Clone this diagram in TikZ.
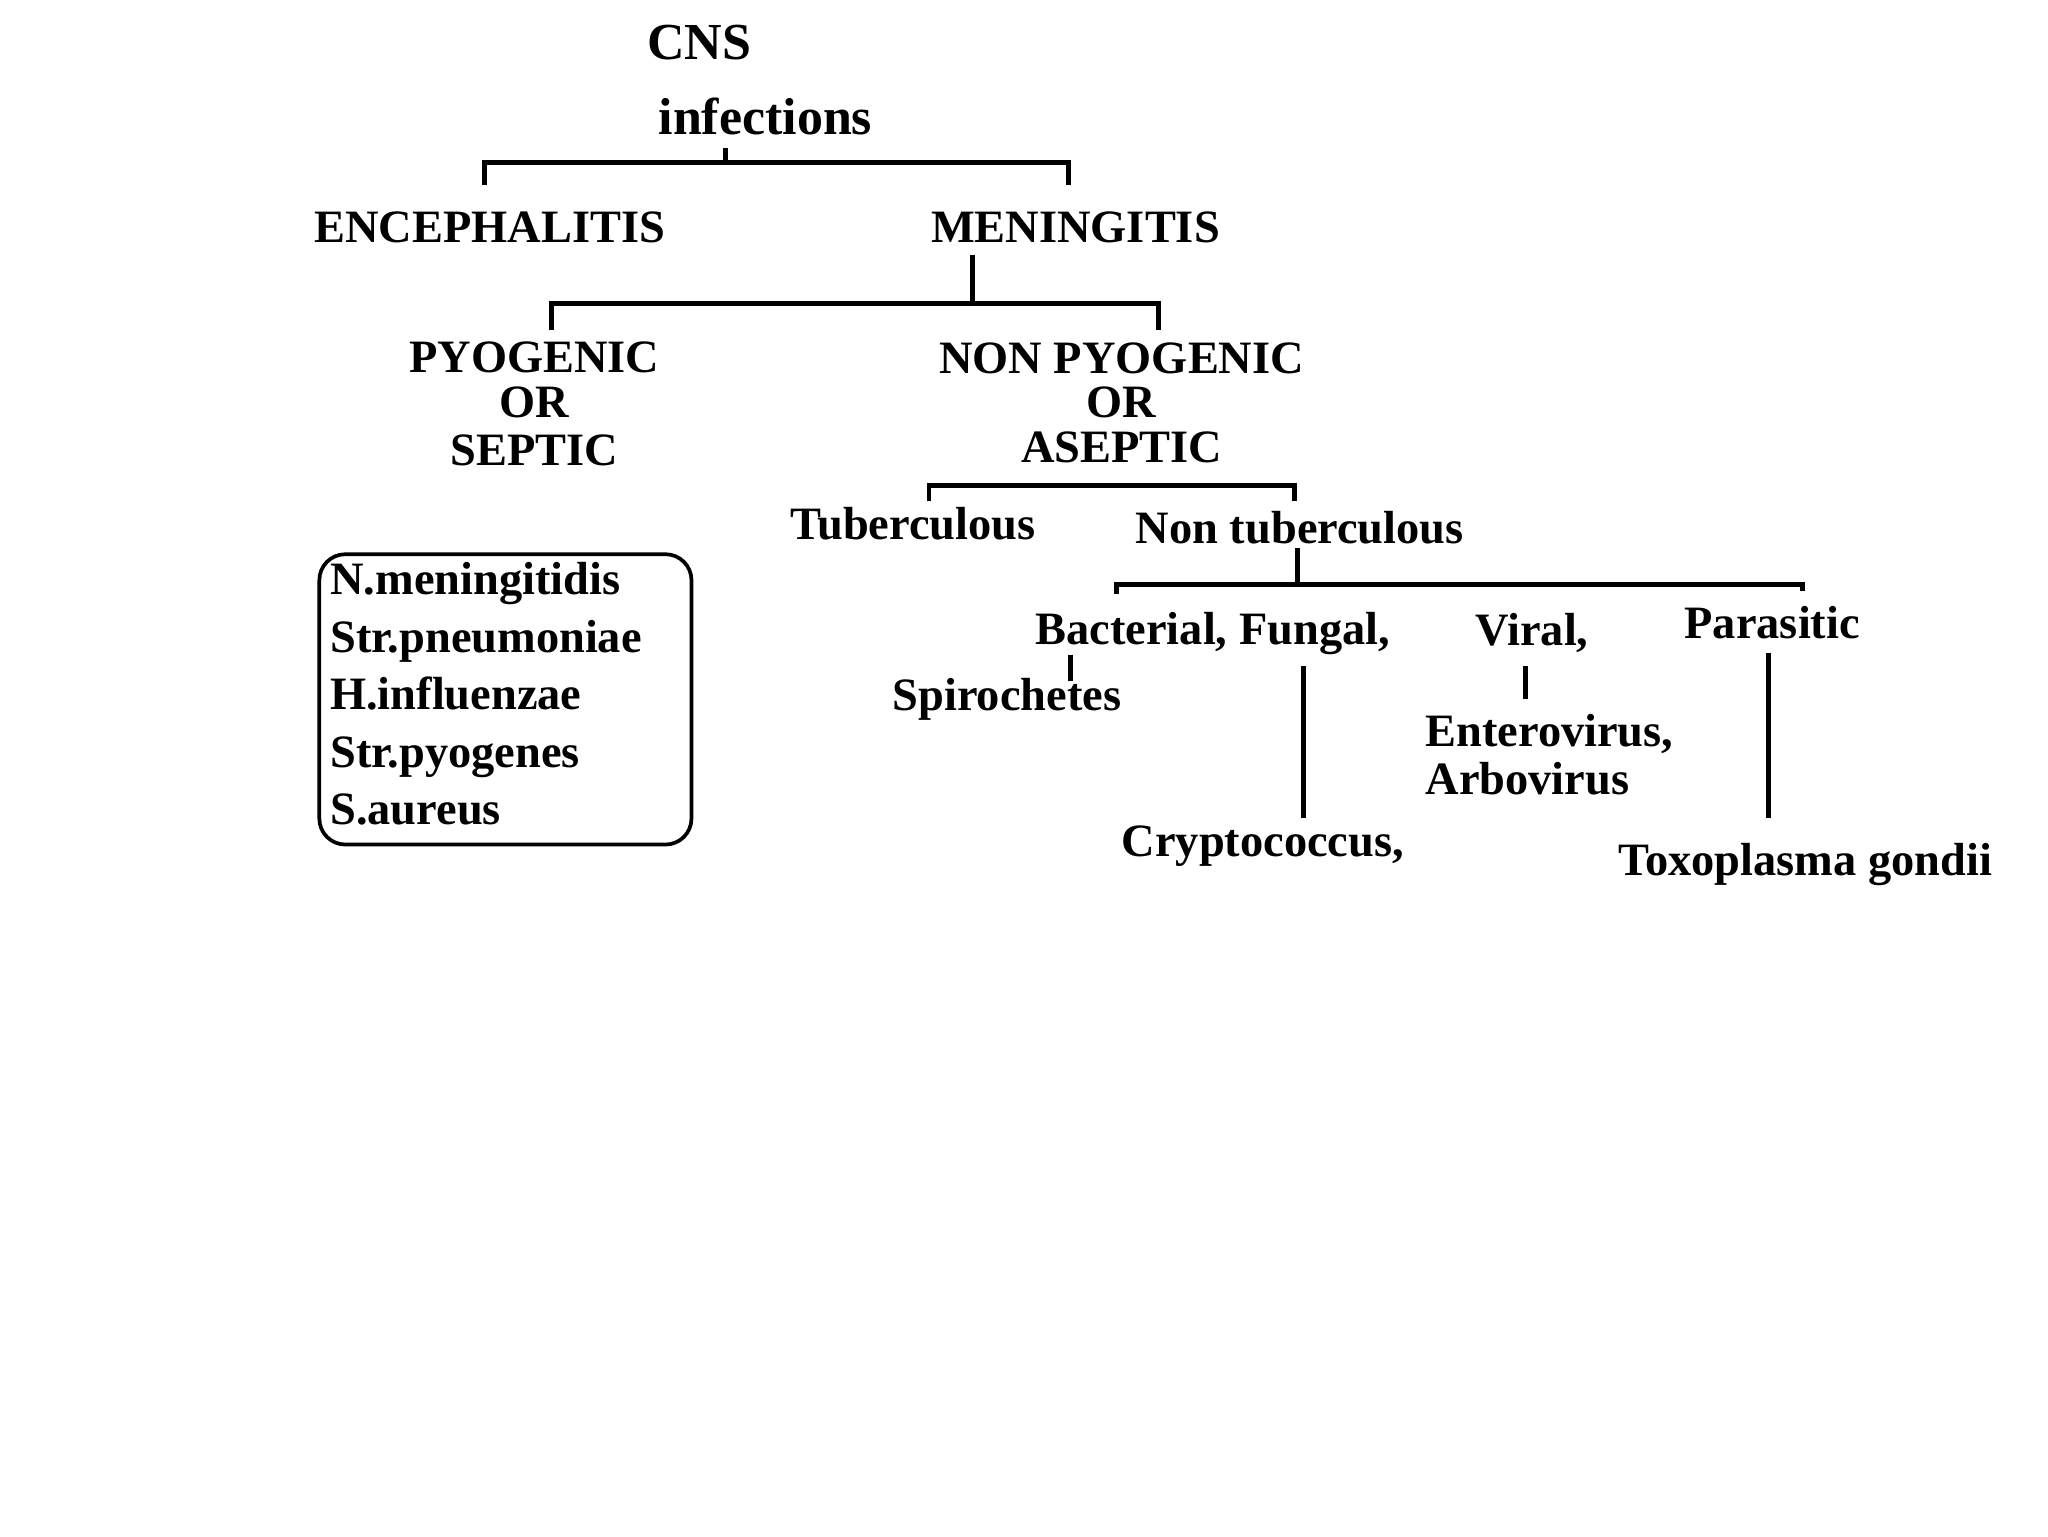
\documentclass[tikz,border=0pt]{standalone}
\usepackage{fontspec}
\setmainfont{Liberation Serif}
\begin{document}
\begin{tikzpicture}[x=0.025cm,y=-0.025cm,
  lbl/.style={font=\bfseries\fontsize{25}{28}\selectfont,inner sep=0pt},
  ttl/.style={font=\bfseries\fontsize{28}{30}\selectfont,inner sep=0pt},
  ln/.style={line width=2.6pt}]
\useasboundingbox (0,0) rectangle (1552,1164);
\node[ttl] (cns) at (530,32) {CNS};
\node[ttl] (inf) at (580,88) {infections};
\node[lbl] (enc) at (371,172) {ENCEPHALITIS};
\node[lbl] (men) at (815,172) {MENINGITIS};
\node[lbl,align=center] (pyo) at (405,306) {PYOGENIC\\[-4pt]OR\\[-2pt]SEPTIC};
\node[lbl,align=center] (npyo) at (850,305) {NON PYOGENIC\\[-4pt]OR\\[-4pt]ASEPTIC};
\node[lbl] (tub) at (692,397) {Tuberculous};
\node[lbl] (ntub) at (985,400) {Non tuberculous};
\node[lbl] (bac) at (919,480) {Bacterial, Fungal,};
\node[lbl] (vir) at (1161,480) {Viral,};
\node[lbl] (par) at (1343,472) {Parasitic};
\node[lbl] (spi) at (763,530) {Spirochetes};
\node[lbl] (cry) at (957,641) {Cryptococcus,};
\node[lbl,align=left,anchor=west] (ent) at (1080,572) {Enterovirus,\\[-2pt]Arbovirus};
\node[lbl] (tox) at (1368,655) {Toxoplasma gondii};
\node[lbl,align=left,anchor=north west] (org) at (250,426)
 {N.meningitidis\\[3pt]Str.pneumoniae\\[3pt]H.influenzae\\[3pt]Str.pyogenes\\[3pt]S.aureus};
\draw[line width=2pt,rounded corners=14pt] (242,420) rectangle (524,640);
% brackets
\draw[ln] (367,140) |- (810,123) -- (810,140);
\draw[ln] (550,123) -- (550,112);
\draw[ln] (737,193) -- (737,230);
\draw[ln] (418,250) |- (878,230) -- (878,250);
\draw[ln] (704,380) |- (981,368) -- (981,380);
\draw[ln] (983,415) -- (983,443);
\draw[ln] (846,450) |- (1366,443) -- (1366,448);
\draw[ln] (811,496) -- (811,516);
\draw[ln] (988,505) -- (988,620);
\draw[ln] (1156,505) -- (1156,530);
\draw[ln] (1340,495) -- (1340,620);
\end{tikzpicture}
\end{document}
